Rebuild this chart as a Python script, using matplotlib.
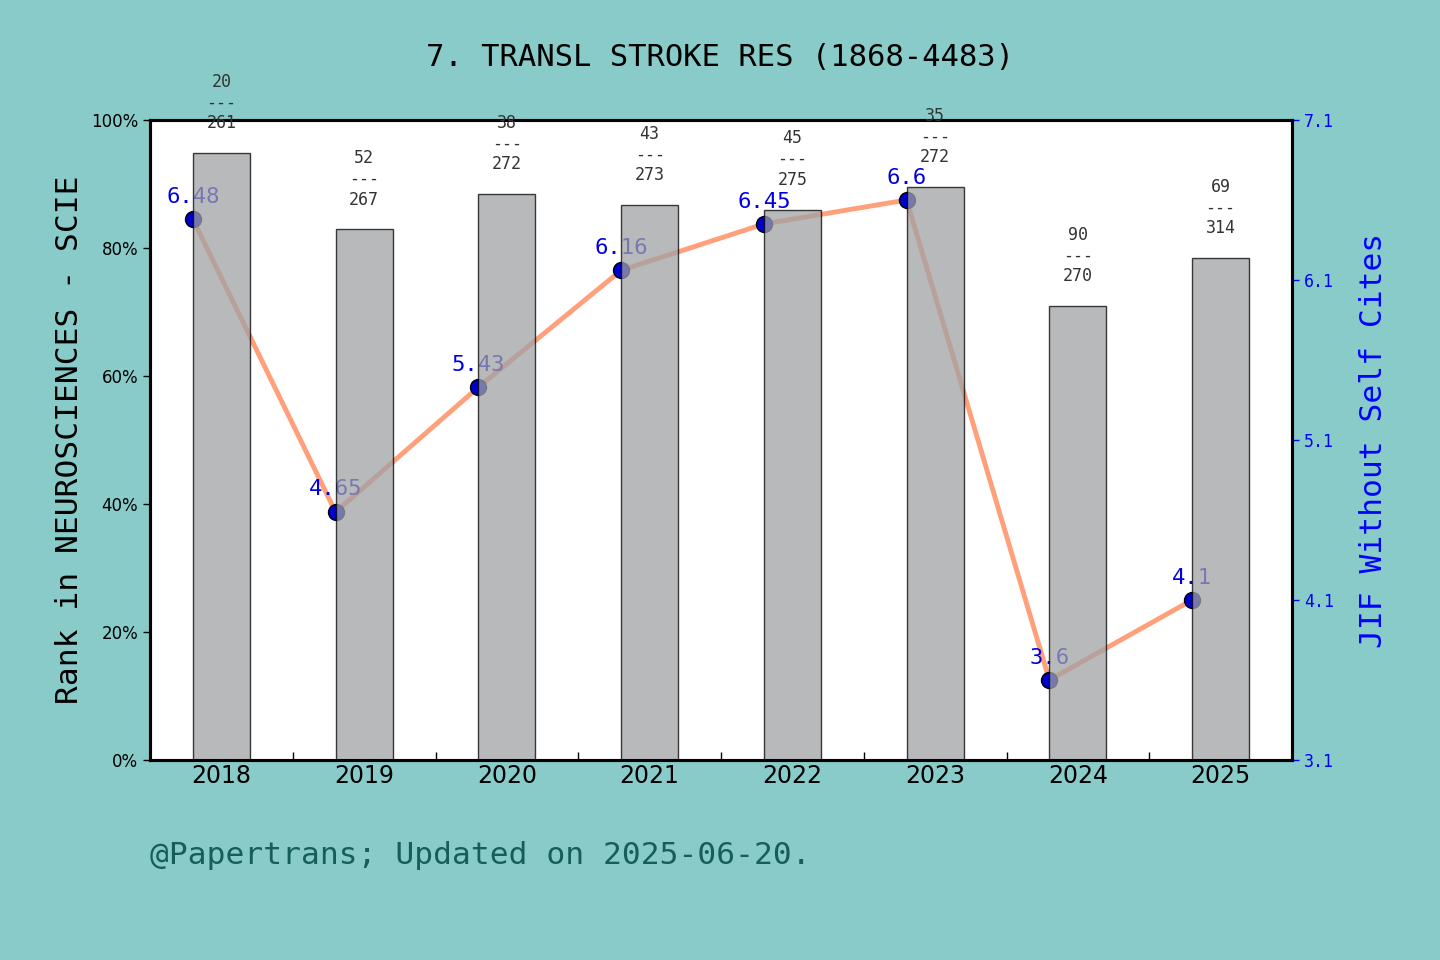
import matplotlib.pyplot as plt
from matplotlib.ticker import PercentFormatter

years = ["2018", "2019", "2020", "2021", "2022", "2023", "2024", "2025"]
rank_pct = [94.8, 82.9, 88.4, 86.7, 86.0, 89.5, 70.9, 78.4]
ranks = [20, 52, 38, 43, 45, 35, 90, 69]
totals = [261, 267, 272, 273, 275, 272, 270, 314]
jif = [6.48, 4.65, 5.43, 6.16, 6.45, 6.6, 3.6, 4.1]
jif_ticks = [3.1, 4.1, 5.1, 6.1, 7.1]

bg = "#88cbc9"
mono = "DejaVu Sans Mono"

fig = plt.figure(figsize=(14.4, 9.6), dpi=100, facecolor=bg)
ax1 = fig.add_axes([150 / 1440, 200 / 960, 1142 / 1440, 640 / 960])
ax2 = ax1.twinx()

# bars sit on top of the line (semi-transparent), so swap drawing order
ax1.set_zorder(2)
ax2.set_zorder(1)
ax1.patch.set_visible(False)
ax2.patch.set_visible(True)
ax2.patch.set_facecolor("white")

x = list(range(len(years)))
bar_w = 0.4
ax1.bar(x, rank_pct, width=bar_w, color="#a0a2a5", alpha=0.75,
        edgecolor="black", linewidth=1)
for xi, h, r, t in zip(x, rank_pct, ranks, totals):
    ax1.annotate(f"{r}\n---\n{t}", (xi, h), xytext=(0, 15), textcoords="offset points",
                 ha="center", va="bottom", fontsize=12, family=mono, color="#333333",
                 linespacing=1.2, annotation_clip=False)

ax1.set_xlim(-0.5, 7.5)
ax1.set_ylim(0, 100)
ax1.set_yticks([0, 20, 40, 60, 80, 100])
ax1.yaxis.set_major_formatter(PercentFormatter(decimals=0))
ax1.tick_params(axis="y", labelsize=12, length=5, width=1)
ax1.set_xticks(x)
ax1.set_xticklabels(years, fontsize=17)
ax1.tick_params(axis="x", length=0, pad=3)
ax1.set_xticks([i + 0.5 for i in x[:-1]], minor=True)
ax1.tick_params(axis="x", which="minor", direction="in", length=6, width=1)
ax1.set_ylabel("Rank in NEUROSCIENCES - SCIE", fontsize=22.5, family=mono, labelpad=5)

xl = [xi - bar_w / 2 for xi in x]
ax2.plot(xl, jif, color="#ffa07a", linewidth=3.5, marker="o", markersize=11.5,
         markerfacecolor="#0000cc", markeredgecolor="black", markeredgewidth=1)
for xi, v in zip(xl, jif):
    ax2.annotate(f"{v:g}", (xi, v), xytext=(0, 9), textcoords="offset points",
                 ha="center", va="bottom", fontsize=16, family=mono, color="#0000dd")
ax2.set_ylim(3.1, 7.1)
ax2.set_yticks(jif_ticks)
ax2.set_yticklabels([f"{t:.1f}" for t in jif_ticks], family=mono)
ax2.tick_params(axis="y", colors="blue", labelsize=12, length=5, width=1)
ax2.set_ylabel("JIF Without Self Cites", fontsize=22.5, family=mono, color="blue",
               labelpad=18)

for ax in (ax1, ax2):
    for s in ax.spines.values():
        s.set_linewidth(2.2)
        s.set_color("black")

fig.text(0.5, 0.94, "7. TRANSL STROKE RES (1868-4483)", ha="center", va="center",
         fontsize=22, family=mono)
fig.text(150 / 1440, 1 - 855 / 960, "@Papertrans; Updated on 2025-06-20.", ha="left",
         va="center", fontsize=22.5, family=mono, color="#175e58")

fig.savefig("out.png", dpi=100, facecolor=bg)
